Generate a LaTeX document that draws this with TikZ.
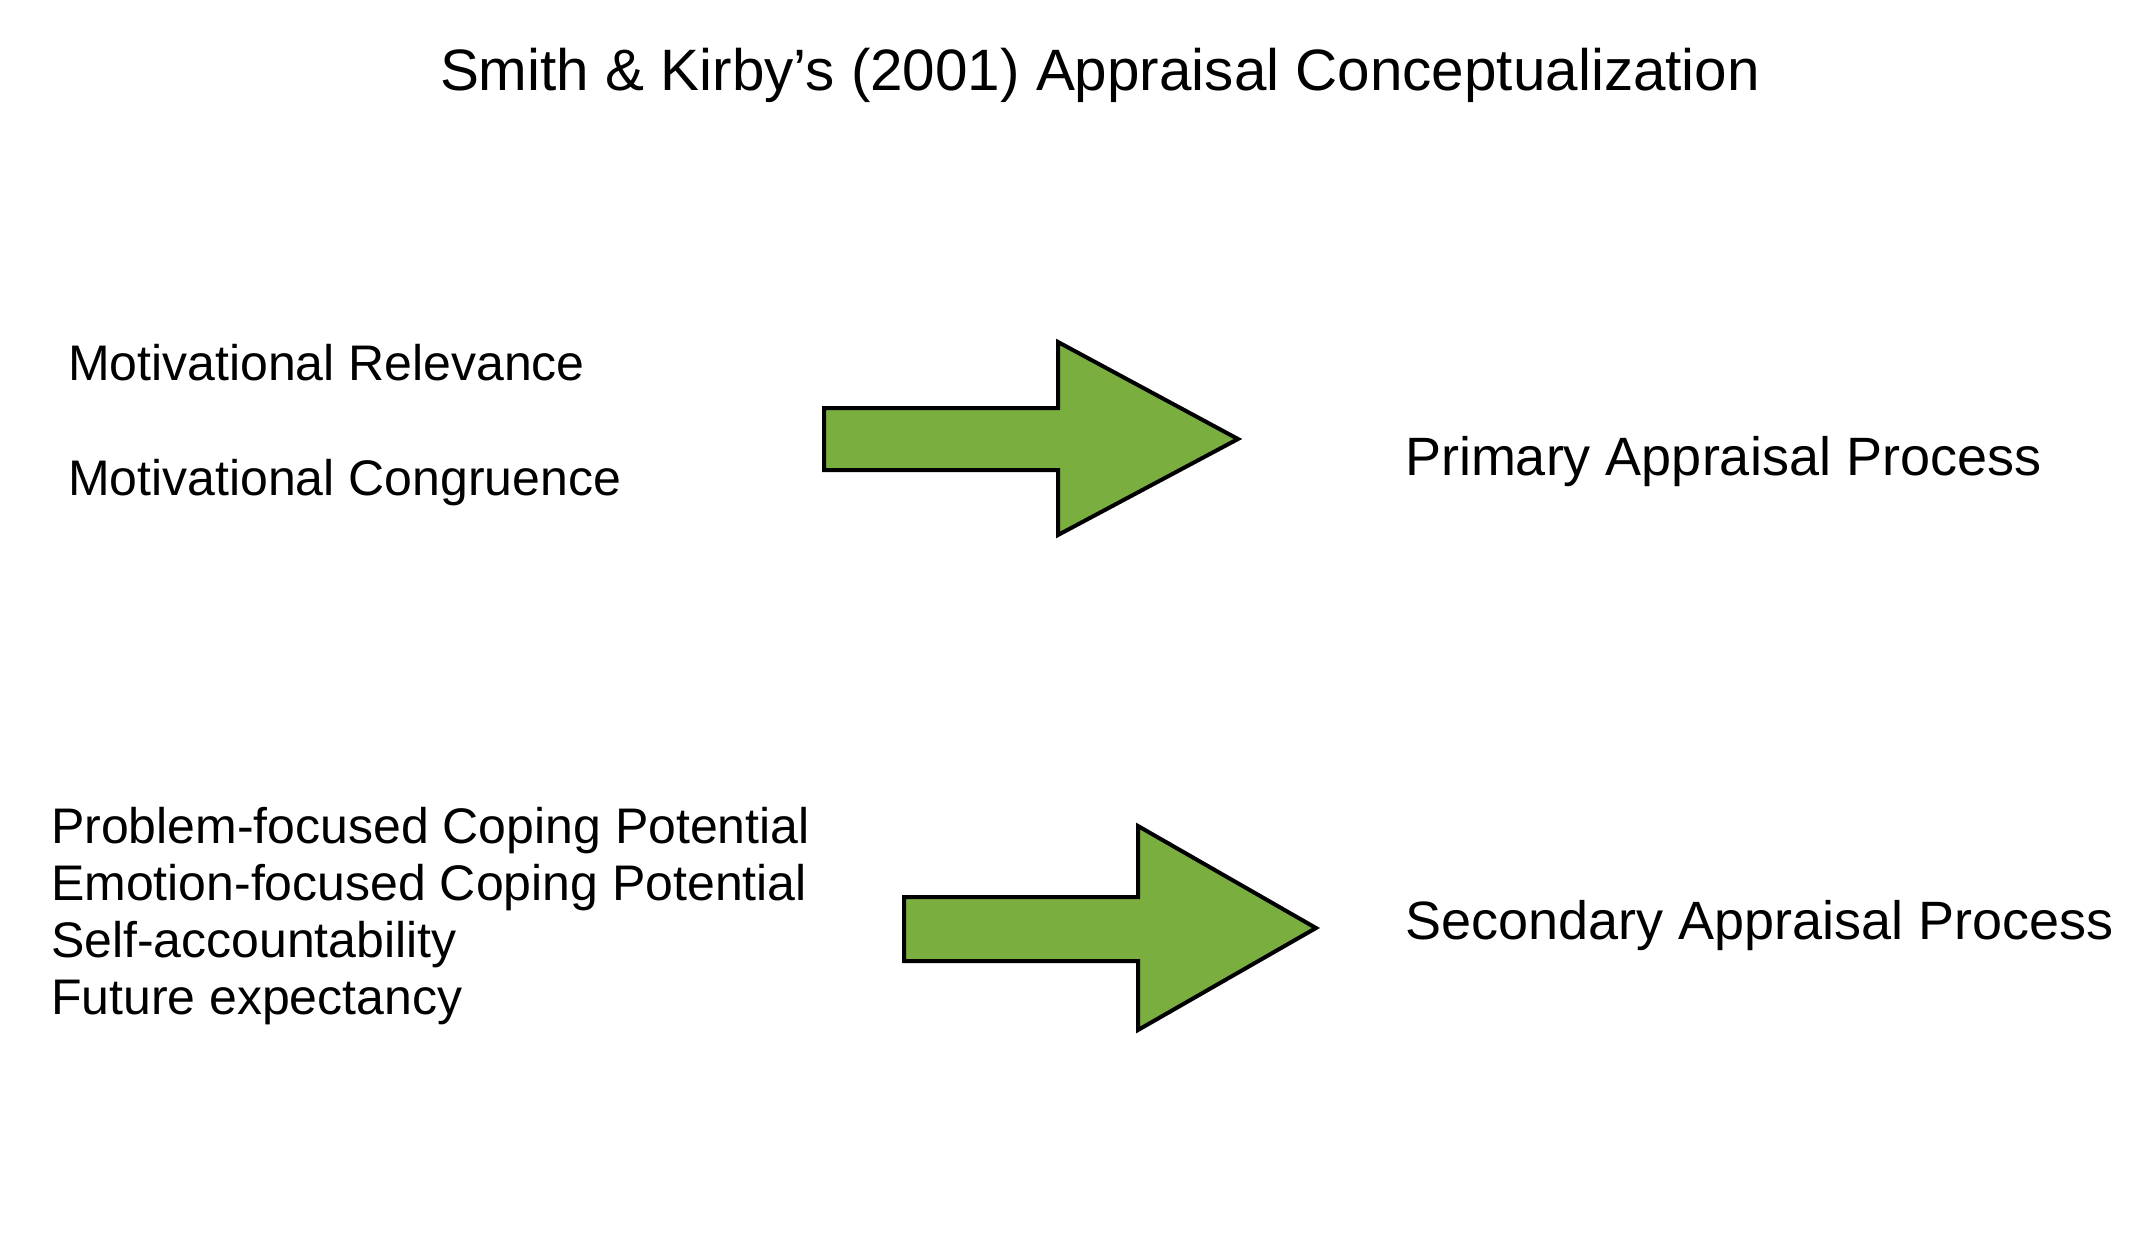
\documentclass[tikz,border=0pt]{standalone}
\usepackage{fontspec}
\setmainfont{Liberation Sans}
\definecolor{arrowgreen}{RGB}{122,174,62}
\tikzset{
  lbl/.style={anchor=base west, inner sep=0pt, outer sep=0pt, text=black},
  bigarrow/.style={draw=black, fill=arrowgreen, line width=4pt, line join=miter}
}
\begin{document}
\begin{tikzpicture}[x=1pt,y=-1pt]
\useasboundingbox (0,0) rectangle (2148,1236);
\fill[white] (0,0) rectangle (2148,1236);
% title
\node[lbl, font=\fontsize{58.4}{66}\selectfont] (title) at (440,91) {Smith \& Kirby’s (2001) Appraisal Conceptualization};
% upper group
\node[lbl, font=\fontsize{50}{57.5}\selectfont] (relevance) at (68,380) {Motivational Relevance};
\node[lbl, font=\fontsize{50}{57.5}\selectfont] (congruence) at (68,495) {Motivational Congruence};
\node[lbl, font=\fontsize{54}{62}\selectfont] (primary) at (1405,475) {Primary Appraisal Process};
% lower group
\node[lbl, font=\fontsize{50}{57.5}\selectfont] (problem) at (51,843) {Problem-focused Coping Potential};
\node[lbl, font=\fontsize{50}{57.5}\selectfont] (emotion) at (51,900) {Emotion-focused Coping Potential};
\node[lbl, font=\fontsize{50}{57.5}\selectfont] (selfacc) at (51,957) {Self-accountability};
\node[lbl, font=\fontsize{50}{57.5}\selectfont] (future) at (51,1014) {Future expectancy};
\node[lbl, font=\fontsize{54}{62}\selectfont] (secondary) at (1405,939) {Secondary Appraisal Process};
% arrows
\draw[bigarrow] (824,408) -- (1058,408) -- (1058,342) -- (1238,439) -- (1058,535) -- (1058,470) -- (824,470) -- cycle;
\draw[bigarrow] (904,897) -- (1138,897) -- (1138,826) -- (1316,928) -- (1138,1030) -- (1138,961) -- (904,961) -- cycle;
\end{tikzpicture}
\end{document}
